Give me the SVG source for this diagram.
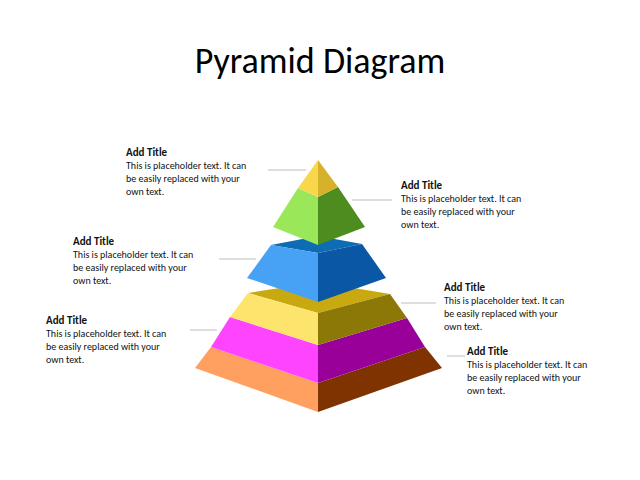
<svg xmlns="http://www.w3.org/2000/svg" width="640" height="480" viewBox="0 0 640 480">
<style>
.t{font-family:Carlito,"Liberation Sans",Arial,sans-serif;font-size:11px;font-weight:bold;fill:#111}
.b{font-family:Carlito,"Liberation Sans",Arial,sans-serif;font-size:10px;fill:#111}
.l{stroke:#bdbdbd;stroke-width:1}
</style>
<rect width="640" height="480" fill="#fff"/>
<text x="320" y="73" text-anchor="middle" font-family="Carlito,'Liberation Sans',Arial,sans-serif" font-size="36" fill="#000">Pyramid Diagram</text>
<g id="connectors">
<line class="l" x1="268" y1="170" x2="306" y2="170"/>
<line class="l" x1="352" y1="200" x2="392" y2="200"/>
<line class="l" x1="219" y1="259" x2="256" y2="259"/>
<line class="l" x1="401" y1="303" x2="436" y2="303"/>
<line class="l" x1="190" y1="330" x2="217" y2="330"/>
<line class="l" x1="447" y1="356" x2="465" y2="356"/>
</g>
<g id="tier-orange">
<polygon points="211,347 318,383 318,412 195,368" fill="#ffa060"/>
<polygon points="318,383 425,347 442,368 318,412" fill="#7f3300"/>
</g>
<g id="tier-magenta">
<polygon points="230,317 318,345 318,383 211,347" fill="#ff44ff"/>
<polygon points="318,345 407,318 425,347 318,383" fill="#990099"/>
</g>
<g id="tier-yellow">
<polygon points="248,293 318,282 390,294 318,313" fill="#c9a910"/>
<polygon points="248,293 318,313 318,345 230,317" fill="#fde46c"/>
<polygon points="318,313 390,294 407,318 318,345" fill="#8b7806"/>
</g>
<g id="tier-blue">
<polygon points="271,245 318,236 362,244 318,253" fill="#0d6cb3"/>
<polygon points="271,245 318,253 318,302 247,278" fill="#47a2f5"/>
<polygon points="318,253 362,244 386,278 318,302" fill="#0a57a5"/>
</g>
<g id="tier-green">
<polygon points="298,188 318,197 318,245 273,227" fill="#9ae85a"/>
<polygon points="318,197 338,187 365,227 318,245" fill="#4d8c1e"/>
<polygon points="318,160 298,188 318,197" fill="#f8d84a"/>
<polygon points="318,160 318,197 338,187" fill="#d5b22a"/>
</g>
<g id="label1"><text class="t" x="126" y="156">Add Title</text><text class="b" x="126" y="169">This is placeholder text. It can</text><text class="b" x="126" y="182">be easily replaced with your</text><text class="b" x="126" y="195">own text.</text></g>
<g id="label2"><text class="t" x="401" y="189">Add Title</text><text class="b" x="401" y="202">This is placeholder text. It can</text><text class="b" x="401" y="215">be easily replaced with your</text><text class="b" x="401" y="228">own text.</text></g>
<g id="label3"><text class="t" x="73" y="245">Add Title</text><text class="b" x="73" y="258">This is placeholder text. It can</text><text class="b" x="73" y="271">be easily replaced with your</text><text class="b" x="73" y="284">own text.</text></g>
<g id="label4"><text class="t" x="444" y="291">Add Title</text><text class="b" x="444" y="304">This is placeholder text. It can</text><text class="b" x="444" y="317">be easily replaced with your</text><text class="b" x="444" y="330">own text.</text></g>
<g id="label5"><text class="t" x="46" y="324">Add Title</text><text class="b" x="46" y="337">This is placeholder text. It can</text><text class="b" x="46" y="350">be easily replaced with your</text><text class="b" x="46" y="363">own text.</text></g>
<g id="label6"><text class="t" x="467" y="355">Add Title</text><text class="b" x="467" y="368">This is placeholder text. It can</text><text class="b" x="467" y="381">be easily replaced with your</text><text class="b" x="467" y="394">own text.</text></g>
</svg>
